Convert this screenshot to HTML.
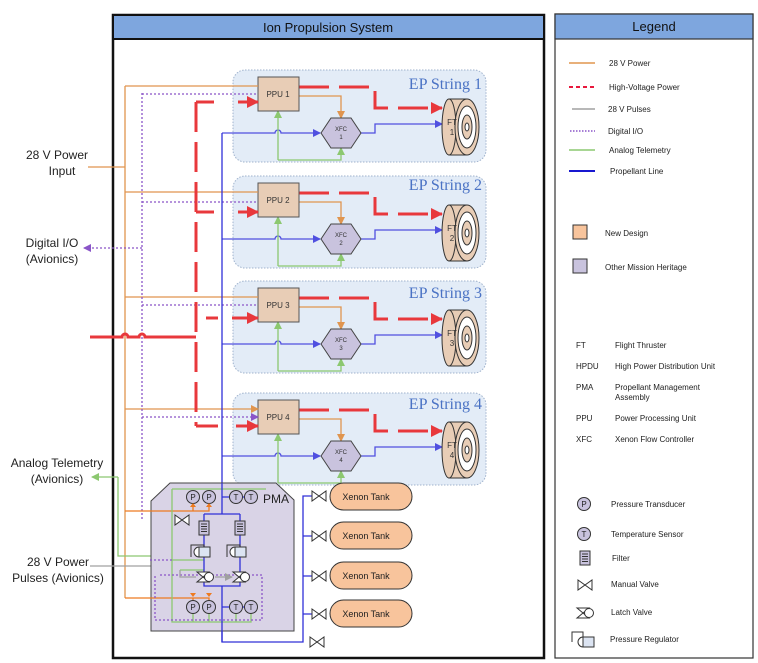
<!DOCTYPE html>
<html><head><meta charset="utf-8"><style>
html,body{margin:0;padding:0;background:#fff;width:758px;height:663px;overflow:hidden}
svg{display:block;font-family:"Liberation Sans",sans-serif}
</style></head><body>
<svg width="758" height="663" viewBox="0 0 758 663" xmlns="http://www.w3.org/2000/svg">
<defs>
<marker id="ao" markerWidth="8" markerHeight="8" refX="7" refY="4" orient="auto" markerUnits="userSpaceOnUse"><path d="M0,0 L8,4 L0,8z" fill="#E0954F"/></marker>
<marker id="ap" markerWidth="8" markerHeight="8" refX="7" refY="4" orient="auto" markerUnits="userSpaceOnUse"><path d="M0,0 L8,4 L0,8z" fill="#8A55C8"/></marker>
<marker id="ar" markerWidth="12" markerHeight="12" refX="11" refY="6" orient="auto" markerUnits="userSpaceOnUse"><path d="M0,0 L12,6 L0,12z" fill="#E8383C"/></marker>
<marker id="ab" markerWidth="8" markerHeight="8" refX="7" refY="4" orient="auto" markerUnits="userSpaceOnUse"><path d="M0,0 L8,4 L0,8z" fill="#5050E0"/></marker>
<marker id="ag" markerWidth="8" markerHeight="8" refX="7" refY="4" orient="auto" markerUnits="userSpaceOnUse"><path d="M0,0 L8,4 L0,8z" fill="#8CC870"/></marker>
<marker id="ay" markerWidth="8" markerHeight="8" refX="7" refY="4" orient="auto" markerUnits="userSpaceOnUse"><path d="M0,0 L8,4 L0,8z" fill="#A0A0A0"/></marker>
<marker id="aO" markerWidth="8" markerHeight="8" refX="7" refY="4" orient="auto" markerUnits="userSpaceOnUse"><path d="M0,0 L8,4 L0,8z" fill="#EE7A20"/></marker>
<g id="str">
<rect x="233" y="70" width="253" height="92" rx="12" fill="#E3ECF7" stroke="#9FB2CC" stroke-dasharray="1.5,1.5"/>
<path d="M299,96 H341 V118" fill="none" stroke="#E0954F" stroke-width="1.3" marker-end="url(#ao)"/>
<path d="M299,87 H375 V108 H442" fill="none" stroke="#E8383C" stroke-width="3" stroke-dasharray="30,10" marker-end="url(#ar)"/>
<path d="M222,133 H275 a3,3 0 0 1 6,0 H320" fill="none" stroke="#5050E0" stroke-width="1.3" marker-end="url(#ab)"/>
<path d="M361,133 H375 V124 H442" fill="none" stroke="#5050E0" stroke-width="1.3" marker-end="url(#ab)"/>
<path d="M278,160 V111" fill="none" stroke="#8CC870" stroke-width="1.3" marker-end="url(#ag)"/>
<path d="M278,160 H341 V148" fill="none" stroke="#8CC870" stroke-width="1.3" marker-end="url(#ag)"/>
<rect x="258" y="77" width="41" height="34" fill="#E8CDB6" stroke="#555"/>
<polygon points="321,133 331,118 351,118 361,133 351,148 331,148" fill="#C9C3DE" stroke="#444"/>
<path d="M449,99 H467 V155 H449z" fill="#E8CDB6"/>
<ellipse cx="449" cy="127" rx="7" ry="28" fill="#E8CDB6" stroke="#333"/>
<path d="M449,99 H467 M449,155 H467" stroke="#333"/>
<ellipse cx="467" cy="127" rx="12" ry="28" fill="#E8CDB6" stroke="#333"/>
<ellipse cx="467" cy="127" rx="9" ry="21" fill="#fff" stroke="#333"/>
<ellipse cx="467" cy="127" rx="5" ry="12" fill="#E8CDB6" stroke="#333"/>
<ellipse cx="467" cy="127" rx="2" ry="4" fill="#fff" stroke="#333"/>
</g>
<g id="pc"><circle r="6.5" fill="#C9C3DE" stroke="#333"/></g>
<g id="mv"><path d="M-7,-5 L7,5 V-5 L-7,5z" fill="#fff" stroke="#333"/></g>
<g id="flt"><rect x="-5" y="-7" width="10" height="14" fill="#C9C3DE" stroke="#333"/><path d="M-3,-4H3M-3,-1.5H3M-3,1H3M-3,3.5H3" stroke="#333"/></g>
<g id="lv"><path d="M-7,-5 L5,5 H-7 L5,-5z" fill="#fff" stroke="#333"/><circle cx="5" cy="0" r="4.5" fill="#fff" stroke="#333"/></g>
<g id="reg"><path d="M-10,5 V-7 H3 V-4" fill="none" stroke="#333"/><path d="M-2,-5 a5,5 0 0 0 0,10z" fill="#fff" stroke="#333"/><rect x="-2" y="-5" width="11" height="10" fill="#DCE4F2" stroke="#333"/></g>
</defs>

<!-- main frame -->
<rect x="113" y="15" width="431" height="643" fill="#fff" stroke="#111" stroke-width="2.5"/>
<rect x="113" y="15" width="431" height="24" fill="#7EA6DE" stroke="#111" stroke-width="2"/>
<text x="328" y="32" font-size="13" text-anchor="middle" fill="#111">Ion Propulsion System</text>

<!-- strings -->
<use href="#str"/>
<use href="#str" transform="translate(0,106)"/>
<use href="#str" transform="translate(0,211)"/>
<use href="#str" transform="translate(0,323)"/>
<g font-family="Liberation Serif,serif" font-size="16" fill="#4A72C4" text-anchor="end">
<text x="482" y="89">EP String 1</text><text x="482" y="190">EP String 2</text><text x="482" y="298">EP String 3</text><text x="482" y="409">EP String 4</text></g>
<g font-size="8" fill="#333" text-anchor="middle">
<text x="278" y="97">PPU 1</text><text x="278" y="203">PPU 2</text><text x="278" y="308">PPU 3</text><text x="278" y="420">PPU 4</text>
<text x="341" y="131" font-size="6">XFC</text><text x="341" y="139" font-size="6">1</text>
<text x="341" y="237" font-size="6">XFC</text><text x="341" y="245" font-size="6">2</text>
<text x="341" y="342" font-size="6">XFC</text><text x="341" y="350" font-size="6">3</text>
<text x="341" y="454" font-size="6">XFC</text><text x="341" y="462" font-size="6">4</text>
<text x="452" y="125">FT</text><text x="452" y="135">1</text>
<text x="452" y="231">FT</text><text x="452" y="241">2</text>
<text x="452" y="336">FT</text><text x="452" y="346">3</text>
<text x="452" y="448">FT</text><text x="452" y="458">4</text></g>

<!-- left buses -->
<g fill="none" stroke-width="1.3">
<path d="M88,167 H125 M125,86 V598" stroke="#E0954F"/>
<path d="M125,86 H258 M125,192 H258 M125,297 H258 M125,409 H258" stroke="#E0954F" marker-end="url(#ao)"/>
<path d="M142,93 V520" stroke="#8A55C8" stroke-dasharray="2,2"/>
<path d="M142,94 H258 M142,202 H258 M142,305 H258 M142,417 H258" stroke="#8A55C8" stroke-dasharray="2,2" marker-end="url(#ap)"/>
<path d="M142,248 H84" stroke="#8A55C8" stroke-dasharray="2,2" marker-end="url(#ap)"/>
<path d="M222,133 V642 H303 V496 H312" stroke="#3030D8"/>
<path d="M303,536 H312 M303,576 H312 M303,614 H312" stroke="#3030D8"/>
</g>
<g fill="none" stroke="#E8383C" stroke-width="3">
<path d="M90,337 H122 a3,3 0 0 1 6,0 H139 a3,3 0 0 1 6,0 H196"/>
<path d="M196,102 V426" stroke-dasharray="30,10"/>
<path d="M196,102 H214" /><path d="M238,102 H258" marker-end="url(#ar)"/>
<path d="M196,212 H214" /><path d="M238,212 H258" marker-end="url(#ar)"/>
<path d="M206,318 H218" /><path d="M232,318 H258" marker-end="url(#ar)"/>
<path d="M196,426 H218" /><path d="M236,426 H258" marker-end="url(#ar)"/>
</g>
<path d="M118,477 H92" fill="none" stroke="#8CC870" stroke-width="1.3" marker-end="url(#ag)"/>
<path d="M118,477 V556 H172" fill="none" stroke="#8CC870" stroke-width="1.3"/>
<path d="M90,566 H195" fill="none" stroke="#A0A0A0" stroke-width="1.3"/>

<!-- left labels -->
<g font-size="12" fill="#222" text-anchor="middle">
<text x="57" y="159">28 V Power</text><text x="62" y="175">Input</text>
<text x="52" y="247">Digital I/O</text><text x="52" y="263">(Avionics)</text>
<text x="57" y="467">Analog Telemetry</text><text x="57" y="483">(Avionics)</text>
<text x="58" y="566">28 V Power</text><text x="58" y="582">Pulses (Avionics)</text></g>

<!-- PMA -->
<polygon points="151,501 170,483 276,483 294,500 294,631 151,631" fill="#D9D3E6" stroke="#444"/>
<g fill="none" stroke-width="1.3">
<path d="M125,511 H193 V504 M125,511 H209 V504" stroke="#EE7A20"/>
<path d="M125,598 H193 V602 M125,598 H209 V602" stroke="#EE7A20"/>
<path d="M172,489 H266 M172,489 V622 H251 V614 M193,614 V622 M209,614 V622 M236,614 V622" stroke="#8CC870"/>
<path d="M172,560 H204 M180,570 H204" stroke="#8CC870"/>
<path d="M150,560 H172 M160,575 H262 V620 H155 V575" stroke="#8A55C8" stroke-dasharray="2,2"/>
<path d="M180,570 V577 H196 M215,577 H232" stroke="#A0A0A0" marker-end="url(#ay)"/>
<path d="M222,483 V514 M204,514 H240 M204,514 V586 H240 V514 M222,497 H251 M222,607 H251 M222,586 V642" stroke="#3030D8"/>
</g>
<use href="#pc" x="193" y="497"/><use href="#pc" x="209" y="497"/><use href="#pc" x="236" y="497"/><use href="#pc" x="251" y="497"/>
<use href="#pc" x="193" y="607"/><use href="#pc" x="209" y="607"/><use href="#pc" x="236" y="607"/><use href="#pc" x="251" y="607"/>
<g font-size="8" fill="#222" text-anchor="middle">
<text x="193" y="500">P</text><text x="209" y="500">P</text><text x="236" y="500">T</text><text x="251" y="500">T</text>
<text x="193" y="610">P</text><text x="209" y="610">P</text><text x="236" y="610">T</text><text x="251" y="610">T</text></g>
<text x="263" y="503" font-size="12" fill="#222">PMA</text>
<use href="#flt" x="204" y="528"/><use href="#flt" x="240" y="528"/>
<use href="#reg" x="201" y="552"/><use href="#reg" x="237" y="552"/>
<use href="#lv" x="204" y="577"/><use href="#lv" x="240" y="577"/>
<use href="#mv" x="182" y="520"/>
<path d="M190,507 l3,-4 l3,4z M206,507 l3,-4 l3,4z M190,593 l3,4 l3,-4z M206,593 l3,4 l3,-4z" fill="#EE7A20"/>

<!-- tanks -->
<use href="#mv" x="319" y="496"/><use href="#mv" x="319" y="536"/><use href="#mv" x="319" y="576"/><use href="#mv" x="319" y="614"/><use href="#mv" x="317" y="642"/>
<g fill="#F8C49C" stroke="#333">
<rect x="330" y="483" width="82" height="27" rx="13.5"/><rect x="330" y="522" width="82" height="27" rx="13.5"/>
<rect x="330" y="562" width="82" height="27" rx="13.5"/><rect x="330" y="600" width="82" height="27" rx="13.5"/></g>
<g font-size="9" fill="#222" text-anchor="middle">
<text x="366" y="500">Xenon Tank</text><text x="366" y="539">Xenon Tank</text><text x="366" y="579">Xenon Tank</text><text x="366" y="617">Xenon Tank</text></g>

<!-- legend -->
<rect x="555" y="14" width="198" height="644" fill="#fff" stroke="#333" stroke-width="1.2"/>
<rect x="555" y="14" width="198" height="25" fill="#7EA6DE" stroke="#333" stroke-width="1.2"/>
<text x="654" y="31" font-size="13" text-anchor="middle" fill="#111">Legend</text>
<g stroke-width="1.5">
<path d="M569,63 H595" stroke="#E0954F"/>
<path d="M569,87 H595" stroke="#E8183C" stroke-width="2" stroke-dasharray="4,3"/>
<path d="M572,109 H595" stroke="#A0A0A0"/>
<path d="M570,131 H595" stroke="#8A55C8" stroke-dasharray="1.5,1.5"/>
<path d="M569,150 H595" stroke="#8CC870"/>
<path d="M569,171 H595" stroke="#1818D0" stroke-width="2"/></g>
<rect x="573" y="225" width="14" height="14" fill="#F8C49C" stroke="#333"/>
<rect x="573" y="259" width="14" height="14" fill="#C9C3DE" stroke="#333"/>
<g font-size="8" fill="#222">
<text x="609" y="66">28 V Power</text><text x="609" y="90">High-Voltage Power</text><text x="608" y="112">28 V Pulses</text>
<text x="608" y="134">Digital I/O</text><text x="609" y="153">Analog Telemetry</text><text x="610" y="174">Propellant Line</text>
<text x="605" y="236">New Design</text><text x="605" y="270">Other Mission Heritage</text>
<text x="576" y="348">FT</text><text x="615" y="348">Flight Thruster</text>
<text x="576" y="369">HPDU</text><text x="615" y="369">High Power Distribution Unit</text>
<text x="576" y="390">PMA</text><text x="615" y="390">Propellant Management</text><text x="615" y="400">Assembly</text>
<text x="576" y="421">PPU</text><text x="615" y="421">Power Processing Unit</text>
<text x="576" y="442">XFC</text><text x="615" y="442">Xenon Flow Controller</text>
<text x="611" y="507">Pressure Transducer</text><text x="611" y="537">Temperature Sensor</text>
<text x="612" y="561">Filter</text><text x="611" y="587">Manual Valve</text><text x="611" y="615">Latch Valve</text>
<text x="610" y="642">Pressure Regulator</text></g>
<use href="#pc" x="584" y="504"/><use href="#pc" x="584" y="534"/>
<text x="584" y="507" font-size="8" text-anchor="middle" fill="#222">P</text>
<text x="584" y="537" font-size="8" text-anchor="middle" fill="#222">T</text>
<use href="#flt" x="585" y="558"/><use href="#mv" x="585" y="585"/><use href="#lv" x="584" y="613"/>
<g transform="translate(575,641)"><path d="M-3,1 V-9 H8 V-4" fill="none" stroke="#333"/><path d="M8,-4 a5,5 0 0 0 0,10z" fill="#fff" stroke="#333"/><rect x="8" y="-4" width="11" height="10" fill="#DCE4F2" stroke="#333"/></g>
</svg>
</body></html>
